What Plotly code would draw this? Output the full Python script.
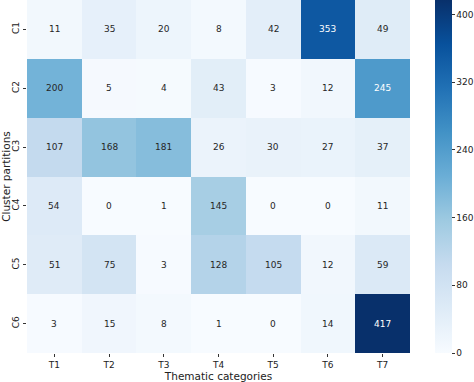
import plotly.graph_objects as go

topics = ["T1", "T2", "T3", "T4", "T5", "T6", "T7"]
clusters = ["C1", "C2", "C3", "C4", "C5", "C6"]
c1 = [11, 35, 20, 8, 42, 353, 49]
c2 = [200, 5, 4, 43, 3, 12, 245]
c3 = [107, 168, 181, 26, 30, 27, 37]
c4 = [54, 0, 1, 145, 0, 0, 11]
c5 = [51, 75, 3, 128, 105, 12, 59]
c6 = [3, 15, 8, 1, 0, 14, 417]
z = [c1, c2, c3, c4, c5, c6]
cbar_ticks = [0, 80, 160, 240, 320, 400]

blues = ["#f7fbff", "#deebf7", "#c6dbef", "#9ecae1", "#6baed6",
         "#4292c6", "#2171b5", "#08519c", "#08306b"]
cs = [[i / (len(blues) - 1), c] for i, c in enumerate(blues)]

fig = go.Figure(go.Heatmap(
    z=z, x=topics, y=clusters, colorscale=cs, zmin=0, zmax=417,
    hoverinfo="skip",
    colorbar=dict(
        x=1.065, xanchor="left", y=0.5, yanchor="middle", len=1.0,
        xpad=0, ypad=0,
        thickness=17, outlinewidth=0, tickvals=cbar_ticks,
        ticks="outside", ticklen=3, tickcolor="#333",
        tickfont=dict(family="DejaVu Sans", size=9, color="#222"),
    ),
))

anns = []
for r, row in enumerate(z):
    for c, v in enumerate(row):
        anns.append(dict(
            x=topics[c], y=clusters[r], text=str(v), showarrow=False,
            font=dict(family="DejaVu Sans", size=9,
                      color="white" if v > 230 else "#262626"),
        ))

fig.update_layout(
    width=474, height=382,
    margin=dict(l=27, r=64, t=0, b=29, autoexpand=False),
    paper_bgcolor="white", plot_bgcolor="white",
    annotations=anns,
    font=dict(family="DejaVu Sans", color="#222"),
    xaxis=dict(
        ticks="outside", ticklen=3, tickcolor="#333", automargin=False,
        tickfont=dict(size=9), showgrid=False, zeroline=False,
        title=dict(text="Thematic categories", font=dict(size=10.5), standoff=2),
    ),
    yaxis=dict(
        autorange="reversed", ticks="outside", ticklen=3, tickcolor="#333",
        automargin=False,
        tickangle=-90, tickfont=dict(size=9), showgrid=False, zeroline=False,
        title=dict(text="Cluster partitions", font=dict(size=10.5), standoff=0),
    ),
)

fig.write_html("out.html", config={"displayModeBar": False},
               post_script="document.body.style.margin='0';document.body.style.overflow='hidden';")
